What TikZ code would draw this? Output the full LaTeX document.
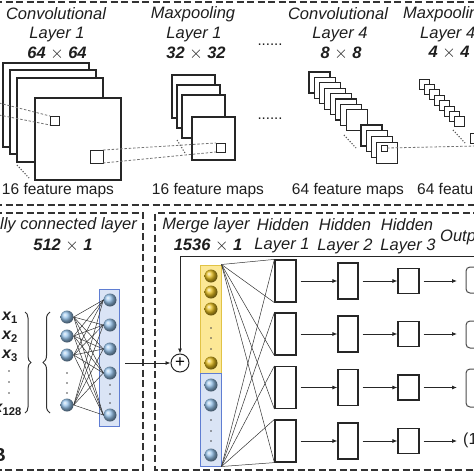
\documentclass[tikz,border=0pt]{standalone}
\usepackage{fontspec}
\setmainfont{Liberation Sans}
\usetikzlibrary{arrows.meta,decorations.pathreplacing,calc}
\definecolor{ballblue}{RGB}{150,195,235}
\definecolor{ballyel}{RGB}{230,190,30}
\definecolor{colblue}{RGB}{218,228,245}
\definecolor{colblued}{RGB}{95,125,210}
\definecolor{colyel}{RGB}{252,232,150}
\definecolor{colyeld}{RGB}{225,195,70}
\definecolor{txt}{RGB}{30,30,30}
\begin{document}
\begin{tikzpicture}[x=1pt,y=-1pt,
  ttl/.style={font=\fontsize{16.5}{19}\selectfont\itshape, inner sep=0, text=txt},
  dimlab/.style={font=\fontsize{16.5}{19}\selectfont\bfseries\itshape, inner sep=0, text=txt},
  fm/.style={font=\fontsize{15.5}{18}\selectfont, inner sep=0, text=txt},
  mapsq/.style={draw=black!85, fill=white, line width=1.1pt},
  smallsq/.style={draw=black!85, line width=0.9pt},
  conn/.style={draw=black!55, dash pattern=on 2.5pt off 1.8pt, line width=0.8pt},
  moredots/.style={draw=black!65, dash pattern=on 1.2pt off 1.6pt, line width=1.1pt},
  border/.style={draw=black!80, dash pattern=on 7pt off 3.5pt, line width=1.1pt},
  bblue/.style={circle, minimum size=13pt, inner sep=0, shading=ball, ball color=ballblue},
  byel/.style={circle, minimum size=13pt, inner sep=0, shading=ball, ball color=ballyel},
  colb/.style={draw=colblued, fill=colblue, line width=1pt, inner sep=0},
  coly/.style={draw=colyeld, fill=colyel, line width=1pt, inner sep=0},
  fc/.style={draw=black!80, line width=0.5pt},
  hbox/.style={draw=black!85, line width=1.2pt, inner sep=0, fill=white},
  arr/.style={draw=black!85, line width=0.8pt, -{Latex[length=5pt,width=4pt]}},
  dotlab/.style={font=\fontsize{15}{15}\selectfont, inner sep=0, text=txt},
  xlab/.style={font=\fontsize{16}{19}\selectfont\bfseries\itshape, inner sep=0, text=txt},
  vdots/.style={circle, fill=black!70, inner sep=0, minimum size=1.6pt},
  outbr/.style={draw=black!70, line width=1pt, rounded corners=4pt}
]
\useasboundingbox (0,0) rectangle (474,474);

% ---------- borders ----------
\draw[border] (-5,2) -- (480,2);
\draw[border] (-5,205) -- (480,205);
\draw[border] (-5,213) -- (143,213) -- (143,470) -- (-5,470);
\draw[border] (480,213) -- (155,213) -- (155,470) -- (480,470);

% ---------- top section titles ----------
\node[ttl] (c1a) at (56,14) {Convolutional};
\node[ttl] (c1b) at (57,35) {Layer 1};
\node[dimlab] (c1c) at (57,53) {64 $\times$ 64};
\node[ttl] (m1a) at (193,14) {Maxpooling};
\node[ttl] (m1b) at (194,35) {Layer 1};
\node[dimlab] (m1c) at (196,53) {32 $\times$ 32};
\node[ttl] (c4a) at (338,14) {Convolutional};
\node[ttl] (c4b) at (340,35) {Layer 4};
\node[dimlab] (c4c) at (341,53) {8 $\times$ 8};
\node[ttl, anchor=west] (m4a) at (403,14) {Maxpooling};
\node[ttl, anchor=west] (m4b) at (420,35) {Layer 4};
\node[dimlab] (m4c) at (449,53) {4 $\times$ 4};
\node[dotlab] (dots1) at (270,45) {......};
\node[dotlab] (dots2) at (270,119) {......};

\node[fm] (f1) at (58,190) {16 feature maps};
\node[fm] (f2) at (208,190) {16 feature maps};
\node[fm] (f3) at (348,190) {64 feature maps};
\node[fm, anchor=west] (f4) at (417,190) {64 feature maps};

% ---------- conv layer 1 maps ----------
\foreach \x/\y in {3/63, 10/70, 17/78} \draw[mapsq] (\x,\y) rectangle ++(86,84);
\draw[moredots] (17,165) -- (29,178);
\draw[mapsq] (35,98) rectangle ++(86,82);
\draw[smallsq] (50,116) rectangle (59,125);
\draw[smallsq] (90,150) rectangle (103,163);
\draw[conn] (-1,103) -- (50,116);
\draw[conn] (-1,115) -- (50,125);

% ---------- maxpool layer 1 maps ----------
\foreach \x/\y in {172/75, 177/85, 182/95} \draw[mapsq] (\x,\y) rectangle ++(43,43);
\draw[moredots] (177,140) -- (185,153);
\draw[mapsq] (192,117) rectangle ++(43,43);
\draw[smallsq] (216,143) rectangle (225,152);
\draw[conn] (103,150) -- (216,143);
\draw[conn] (103,163) -- (216,152);

% ---------- conv layer 4 maps ----------
\foreach \i in {0,...,7} \draw[mapsq] ({309+5.3*\i},{72+5.4*\i}) rectangle ++(21,21);
\draw[moredots] (344,135) -- (356,148);
\foreach \i in {0,...,3} \draw[mapsq] ({361+5.3*\i},{125+5.7*\i}) rectangle ++(21,21);
\draw[smallsq, line width=0.7pt] (381,145) rectangle (387,151);
\draw[conn] (387,148) -- (476,146);

% ---------- maxpool layer 4 maps ----------
\foreach \i in {0,...,7} \draw[mapsq, line width=1pt] ({419+5*\i},{79+5.4*\i}) rectangle ++(10,10);
\draw[moredots] (453,130) -- (465,143);
\foreach \i in {0,...,3} \draw[mapsq, line width=1pt] ({470+5*\i},{133+5.5*\i}) rectangle ++(10,10);

% ---------- fully connected box ----------
\node[ttl, anchor=east] (fct) at (137,225) {Fully connected layer};
\node[dimlab] (fcd) at (63,245) {512 $\times$ 1};

\node[colb, minimum width=20pt, minimum height=137pt] (fcbox) at (109,357.5) {};
\foreach \n/\y in {1/300, 2/325, 3/349, 4/373, 5/415} \node[bblue] (r\n) at (110,\y) {};
\foreach \y in {385,394,403} \node[vdots] at (110,\y) {};
\foreach \n/\y in {1/317, 2/336, 3/355, 4/405} \node[bblue] (l\n) at (67,\y) {};
\foreach \y in {373,383,393} \node[vdots] at (67,\y) {};
\foreach \i in {1,...,4} \foreach \j in {1,...,5} \draw[fc] (l\i.east) -- (r\j.west);

\node[xlab] (x1) at (10,318) {x\textsubscript{\upshape 1}};
\node[xlab] (x2) at (10,337) {x\textsubscript{\upshape 2}};
\node[xlab] (x3) at (10,356) {x\textsubscript{\upshape 3}};
\foreach \y in {371,382,393} \node[vdots] at (9,\y) {};
\node[xlab, anchor=east] (x128) at (22,410) {x\textsubscript{\upshape 128}};
\draw[line width=1pt, draw=black!80, decorate, decoration={brace, amplitude=6pt}] (25,312) -- (25,413);
\draw[line width=1pt, draw=black!80, decorate, decoration={brace, amplitude=7pt}] (50,413) -- (50,312);
\node[font=\fontsize{19}{19}\selectfont\bfseries, inner sep=0, anchor=east, text=txt] (blab) at (6,455) {B};

% ---------- merge ----------
\node[ttl] (mlt) at (206,225) {Merge layer};
\node[dimlab] (mld) at (208,245) {1536 $\times$ 1};
\node[ttl] (h1t) at (283,225) {Hidden};
\node[ttl] (h1u) at (282,246) {Layer 1};
\node[ttl] (h2t) at (345,225) {Hidden};
\node[ttl] (h2u) at (345,246) {Layer 2};
\node[ttl] (h3t) at (407,225) {Hidden};
\node[ttl] (h3u) at (408,246) {Layer 3};
\node[ttl, anchor=west] (outt) at (440,237) {Output};

\node[draw=black!85, circle, minimum size=18pt, inner sep=0, line width=1pt, font=\fontsize{17}{17}\selectfont] (plus) at (180,363) {+};
\coordinate (fcout) at (125,363);
\draw[arr] (fcout) -- (plus.west);
\coordinate (fb) at (476,256);
\draw[arr] (fb) -| (plus.north);

\node[coly, minimum width=21pt, minimum height=108pt] (ybox) at (210.5,319) {};
\node[colb, minimum width=21pt, minimum height=93pt] (bbox) at (210.5,419.5) {};
\foreach \n/\y in {1/276, 2/292, 3/309, 4/363} \node[byel] (y\n) at (211,\y) {};
\foreach \y in {328,338,349} \node[vdots] at (211,\y) {};
\foreach \n/\y in {1/385, 2/405, 3/455} \node[bblue] (b\n) at (211,\y) {};
\foreach \y in {420,431,441} \node[vdots] at (211,\y) {};

% hidden layers
\foreach \n/\y in {a/281, b/334, c/387.5, d/441} {
  \node[hbox, minimum width=21pt, minimum height=42pt] (h1\n) at (285.5,\y) {};
  \node[hbox, minimum width=20pt, minimum height=36pt] (h2\n) at (348,\y) {};
  \node[hbox, minimum width=21pt, minimum height=25pt] (h3\n) at (408.5,\y) {};
  \coordinate (o\n) at (457,\y);
  \draw[arr] ([xshift=4pt]h1\n.east) -- (h2\n.west);
  \draw[arr] ([xshift=4pt]h2\n.east) -- (h3\n.west);
  \draw[arr] ([xshift=4pt]h3\n.east) -- (o\n);
}
\draw[fc] (ybox.north east) -- (h1a.north west);
\foreach \n in {a,b,c,d} {
  \draw[fc] (ybox.north east) -- (h1\n.south west);
  \draw[fc] (bbox.south east) -- (h1\n.north west);
}
\draw[fc] (bbox.south east) -- (h1d.south west);

% outputs
\draw[outbr] (478,267) -- (466,267) -- (466,293) -- (478,293);
\draw[outbr] (478,321) -- (466,321) -- (466,348) -- (478,348);
\draw[outbr] (478,369) -- (466,369) -- (466,407) -- (478,407);
\node[font=\fontsize{16}{19}\selectfont, inner sep=0, anchor=west, text=txt] (o4t) at (463,440) {(1};
\end{tikzpicture}
\end{document}
